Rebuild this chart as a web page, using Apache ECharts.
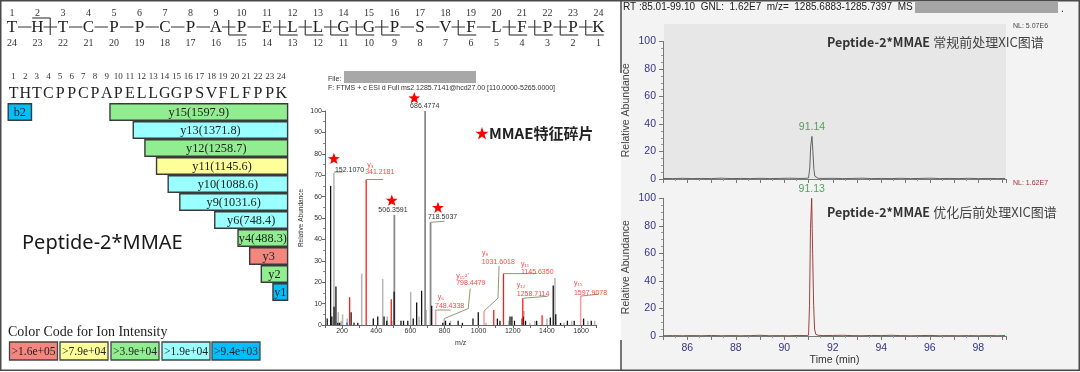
<!DOCTYPE html>
<html>
<head>
<meta charset="utf-8">
<script src="https://cdn.jsdelivr.net/npm/echarts@6/dist/echarts.min.js"></script>
<style>
html,body{margin:0;padding:0;background:#fff;overflow:hidden}
#c{width:1080px;height:372px}
</style>
</head>
<body>
<div id="c"></div>
<script>
// ================= DATA =================
const residues = ['T','H','T','C','P','P','C','P','A','P','E','L','L','G','G','P','S','V','F','L','F','P','P','K'];
const ionNames  = ['b2','y15','y13','y12','y11','y10','y9','y6','y4','y3','y2','y1'];
const ionMasses = [null,1597.9,1371.8,1258.7,1145.6,1088.6,1031.6,748.4,488.3,null,null,null];
const ionLevel  = [4,2,3,2,1,3,3,3,2,0,2,4];
const intensityLevels = ['>1.6e+05','>7.9e+04','>3.9e+04','>1.9e+04','>9.4e+03'];

// MS/MS spectrum peaks (m/z, relative abundance)
const blackMz = [113,133,140,153,164,175,186,253,270,292,383,409,446,462,490,505,545,560,585,617,637,666,725,790,806,830,880,905,967,998,1110,1125,1184,1195,1210,1255,1262,1275,1340,1420,1437,1452,1480,1520,1560,1615,1660];
const blackAb = [3,65,4,8.5,18,1,1,6,1,1,3,4,4,2,2,15.5,2,2,2,3,10.5,16,9,1,2,1,2,1,3,6,3,2,4,4,2,3,4,2,2,3.5,18.5,5,1,2,2,3,2];
const grayMz  = [506.36,686.48,690,718.5];
const grayAb  = [51.5,100,7,48];
const lightMz = [152.11,178,195,203,230,315,438,465,602,651,798.45,835,1043,1176,1265,1300,1330,1400,1447,1500,1545,1640,1680];
const lightAb = [71,6,2,5,3,24,21.5,4,15.5,4,3,2,1,2,6.5,1,2,3,22,1,2,2,2];
const redMz   = [244.2,341.22,488.3,1088.6,1145.64,1258.71,1371.8];
const redAb   = [13,68,12,7,24,12.5,4.5];
const pinkMz  = [748.43,1031.6,1597.91];
const pinkAb  = [7,6.5,13.5];
const blueMz  = [229];
const blueAb  = [1.2];

// annotated peaks
const labelMz  = [152.1070,341.2181,506.3591,686.4774,718.5037,748.4338,798.4479,1031.6018,1145.6350,1258.7114,1597.9078];
const labelAb  = [71,68,51.5,100,48,7,3,6.5,24,12.5,13.5];
const labelIon = ['','y₃','','','','y₆','y₁₅²⁺','y₉','y₁₁','y₁₂','y₁₅'];
const mmaeMark = [1,0,1,1,1,0,0,0,0,0,0];

// XIC traces
const topRT = [85.01,85.4,85.8,86.2,86.6,87,87.4,87.8,88.2,88.6,89,89.4,89.8,90.2,90.6,90.9,91.0,91.05,91.09,91.14,91.18,91.22,91.26,91.3,91.4,91.6,92,92.4,92.8,93.2,93.6,94,94.4,94.8,95.2,95.6,96,96.4,96.8,97.2,97.6,98,98.4,98.8,99.1];
const topAb = [0.4,0.3,0.5,0.3,0.4,0.3,0.6,0.3,0.4,0.3,0.5,0.3,0.4,0.6,0.4,0.5,0.8,8,24,31,20,7,2,0.8,0.5,0.4,0.5,0.3,0.4,0.6,0.3,0.4,0.3,0.5,0.3,0.4,0.6,0.3,0.4,0.3,0.5,0.3,0.4,0.3,0.4];
const botRT = [85.01,85.4,85.8,86.2,86.6,87,87.4,87.8,88.2,88.6,89,89.4,89.8,90.2,90.6,90.9,91.0,91.04,91.08,91.13,91.17,91.21,91.25,91.3,91.4,91.6,92,92.4,92.8,93.2,93.6,94,94.4,94.8,95.2,95.6,96,96.4,96.8,97.2,97.6,98,98.4,98.8,99.1];
const botAb = [0.2,0.3,0.2,0.3,0.2,0.4,0.2,0.3,0.2,0.3,0.5,0.2,0.3,0.2,0.4,0.3,0.6,22,78,100,60,22,5,1.2,0.5,0.3,0.4,0.5,0.3,0.2,0.4,0.3,0.5,0.3,0.2,0.3,0.4,0.2,0.3,0.2,0.3,0.2,0.3,0.2,0.3];

// ================= STYLE =================
const SERIF = '"Liberation Serif","Times New Roman",serif';
const SANS = '"Liberation Sans",Arial,sans-serif';
const CJK = '"Noto Sans CJK SC","Noto Sans",sans-serif';
const levelColors = ['#f4857f','#ffff99','#90ee90','#99ffff','#00bfff'];
const navy = '#34348a';

// label layout (pixel offsets from the peak top)
const labelLayout = [
  {t:[1,-3], s:[0,-14], lead:[[0,-1],[9,-1]]},
  {t:[-1,-7.5], i:[1,-14.5], lead:[[0,0],[17,0]]},
  {t:[-16,-5], s:[-2.6,-14]},
  {t:[-15,-5], s:[-10.8,-12.7]},
  {t:[-2.6,-5], s:[7.4,-14.3], lead:[[0,0],[14,-1]]},
  {t:[-0.7,-4], i:[2,-13.3], lead:[[0,0],[15,0]]},
  {t:[12,-35.3], i:[12,-42.6], lead:[[0,0],[24,-10],[26,-30]]},
  {t:[-2.3,-49.3], i:[-2,-58], lead:[[0,0],[14,-13],[15,-45]]},
  {t:[17.5,-2], i:[17.5,-9.6], lead:[[0,0],[33,0]]},
  {t:[-6,-4.3], i:[-6,-13.3], lead:[[0,0],[25,-2]]},
  {t:[-6.7,-3.3], i:[-6.7,-13], lead:[[0,0],[18,-2]]}
];

function starPts(cx, cy, R, r) {
  const pts = [];
  for (let k = 0; k < 10; k++) {
    const ang = -Math.PI / 2 + k * Math.PI / 5;
    const rr = k % 2 === 0 ? R : r;
    pts.push([cx + rr * Math.cos(ang), cy + rr * Math.sin(ang)]);
  }
  return pts;
}

// derived ion data
const yIonOrder = ionNames.filter(n => n[0] === 'y');
const ionData = ionNames.map((n, k) => {
  const N = parseInt(n.slice(1), 10);
  const isB = n[0] === 'b';
  const start = isB ? 0 : 24 - N;
  const end = isB ? N : 24;
  const row = isB ? 0 : yIonOrder.indexOf(n);
  return [start, end, row, ionLevel[k]];
});
const bSites = ionNames.filter(n => n[0] === 'b').map(n => parseInt(n.slice(1), 10));
const yStartResidues = yIonOrder.map(n => 25 - parseInt(n.slice(1), 10));

const chart = echarts.init(document.getElementById('c'), null, {width:1080, height:372});

function line(x1,y1,x2,y2,color,w){
  return {type:'line', shape:{x1,y1,x2,y2}, style:{stroke:color||'#333', lineWidth:w||1}};
}
function txt(x,y,text,font,fill,align,valign){
  return {type:'text', x, y, style:{text, font, fill, align:align||'center', verticalAlign:valign||'middle', textAlign:align||'center', textVerticalAlign:valign||'middle'}};
}

function peakSeries(mz, ab, color, w) {
  return {
    type:'custom', xAxisIndex:2, yAxisIndex:2, silent:true, clip:false,
    data: mz.map((m,i)=>[m, ab[i]]),
    renderItem(params, api){
      const p0 = api.coord([api.value(0), 0]);
      const p1 = api.coord([api.value(0), api.value(1)]);
      return {type:'line', shape:{x1:p0[0], y1:p0[1], x2:p1[0], y2:p1[1]}, style:{stroke:color, lineWidth:w}};
    }
  };
}

function apexPoint(rt, ab) {
  let k = 0; ab.forEach((v,i)=>{ if (v > ab[k]) k = i; });
  return [[rt[k], ab[k]]];
}

const grids = [
  {left:0, top:0, width:612, height:50},
  {left:5.2, top:103, width:279.4, height:198},
  {left:325, top:111, width:271.4, height:214},
  {left:663, top:41.5, width:343, height:137.5},
  {left:663, top:198.3, width:343, height:137.7}
].map(g => Object.assign({outerBoundsMode:'none', containLabel:false}, g));

const specAxisCommon = {
  axisLine:{lineStyle:{color:'#666', width:1}},
  axisTick:{length:3, lineStyle:{color:'#666'}},
  minorTick:{show:true, splitNumber:2, length:2, lineStyle:{color:'#888'}},
  splitLine:{show:false},
  axisLabel:{fontSize:7, fontFamily:SANS, color:'#333', margin:3}
};
const xicY = {
  type:'value', min:0, max:100, interval:20,
  axisLine:{show:true, lineStyle:{color:'#777'}},
  axisTick:{show:true, length:4, lineStyle:{color:'#777'}},
  minorTick:{show:true, splitNumber:4, length:2, lineStyle:{color:'#999'}},
  splitLine:{show:false},
  axisLabel:{fontSize:10.5, fontFamily:SANS, color:navy, margin:7},
  name:'Relative Abundance', nameLocation:'middle', nameGap:31, nameRotate:90,
  nameTextStyle:{fontSize:10.5, fontFamily:SANS, color:'#444'}
};
const xicX = {
  type:'value', min:85, max:99.14, interval:1,
  axisLine:{show:true, lineStyle:{color:'#777'}},
  axisTick:{show:true, length:4, lineStyle:{color:'#777'}},
  minorTick:{show:true, splitNumber:2, length:2, lineStyle:{color:'#999'}},
  splitLine:{show:false},
  axisLabel:{fontSize:10.5, fontFamily:SANS, color:navy, margin:7,
    formatter: v => (Math.abs(v - Math.round(v)) < 1e-6 && Math.round(v) % 2 === 0) ? String(Math.round(v)) : ''}
};

// ------- graphics (panels, titles, legend) -------
const g = [];
g.push({type:'rect', z:-10, shape:{x:621, y:0, width:459, height:372}, style:{fill:'#f3f3f3'}});
g.push({type:'rect', z:-9, shape:{x:664, y:24, width:342, height:155}, style:{fill:'#e7e7e7'}});
g.push({type:'rect', z:-8, shape:{x:0.75, y:0.75, width:1078.5, height:369.5}, style:{fill:'none', stroke:'#4a4a4a', lineWidth:1.5}});
g.push(Object.assign(line(621,0,621,73,'#4a4a4a',1.5), {z:-8}));
g.push(Object.assign(line(621,340,621,371,'#4a4a4a',1.5), {z:-8}));
// right header
g.push(txt(623,7,'RT :85.01-99.10  GNL:  1.62E7  m/z=  1285.6883-1285.7397  MS   F:  MS','10px '+SANS,'#222','left'));
g.push({type:'rect', shape:{x:915, y:1, width:143, height:12}, style:{fill:'#a5a5a5'}});
g.push(txt(1061,9,'.','10px '+SANS,'#222','left'));
g.push(txt(1013,26,'NL: 5.07E6','7px '+SANS,'#444','left'));
g.push(txt(1013,183,'NL: 1.62E7','7px '+SANS,'#a03030','left'));
// XIC titles
g.push({type:'text', x:827, y:42, style:{text:'{a|Peptide-2*MMAE} {b|常规前处理XIC图谱}', verticalAlign:'middle', textVerticalAlign:'middle',
  rich:{a:{font:'bold 12.5px '+CJK, fill:'#333', color:'#333'}, b:{font:'13px '+CJK, fill:'#444', color:'#444'}}}});
g.push({type:'text', x:827, y:212, style:{text:'{a|Peptide-2*MMAE} {b|优化后前处理XIC图谱}', verticalAlign:'middle', textVerticalAlign:'middle',
  rich:{a:{font:'bold 12.5px '+CJK, fill:'#333', color:'#333'}, b:{font:'13px '+CJK, fill:'#444', color:'#444'}}}});
// spectrum header
g.push(txt(328,79,'File:','7px '+SANS,'#333','left'));
g.push({type:'rect', shape:{x:344, y:71, width:132, height:12}, style:{fill:'#a8a8a8'}});
g.push(txt(328,88,'F: FTMS + c ESI d Full ms2 1285.7141@hcd27.00 [110.0000-5265.0000]','7px '+SANS,'#333','left'));
g.push({type:'text', x:475, y:133, style:{text:'{s|★}{t|MMAE特征碎片}', verticalAlign:'middle', textVerticalAlign:'middle',
  rich:{s:{font:'14px '+CJK, fill:'#ff0000', color:'#ff0000'}, t:{font:'bold 15px '+CJK, fill:'#222', color:'#222'}}}});
// left panel labels
g.push(txt(22,243,'Peptide-2*MMAE','20px "Noto Sans",sans-serif','#1a1a1a','left'));
g.push(txt(8,332,'Color Code for Ion Intensity','14px '+SERIF,'#222','left'));
const legendX = [9.5,60,111,162,212];
intensityLevels.forEach((lv, k) => {
  g.push({type:'rect', shape:{x:legendX[k], y:342, width:48, height:18}, style:{fill:levelColors[k], stroke:'#444', lineWidth:1.3}});
  g.push(txt(legendX[k]+24, 351.5, lv, '11.5px '+SERIF, '#222'));
});

const option = {
  animation:false,
  backgroundColor:'#ffffff',
  grid: grids,
  xAxis: [
    {type:'value', gridIndex:0, min:0.53, max:24.53, show:false},
    {type:'value', gridIndex:1, min:0, max:24, show:false},
    Object.assign({type:'value', gridIndex:2, min:100, max:1690, interval:100,
      name:'m/z', nameLocation:'middle', nameGap:12, nameTextStyle:{fontSize:7, fontFamily:SANS, color:'#333'}}, specAxisCommon,
      {axisLabel:Object.assign({}, specAxisCommon.axisLabel, {formatter: v => (v % 200 === 0 && v >= 200 && v <= 1600) ? String(v) : ''})},
      {minorTick:{show:false}}),
    Object.assign({gridIndex:3}, xicX, {axisLabel:{show:false}}),
    Object.assign({gridIndex:4}, xicX, {name:'Time (min)', nameLocation:'middle', nameGap:18, nameTextStyle:{fontSize:10.5, fontFamily:SANS, color:'#333'}})
  ],
  yAxis: [
    {type:'value', gridIndex:0, min:0, max:1, show:false},
    {type:'value', gridIndex:1, min:0, max:11, inverse:true, show:false},
    Object.assign({type:'value', gridIndex:2, min:0, max:100, interval:10,
      name:'Relative Abundance', nameLocation:'middle', nameGap:20, nameRotate:90,
      nameTextStyle:{fontSize:6.5, fontFamily:SANS, color:'#333'}}, specAxisCommon),
    Object.assign({gridIndex:3}, xicY),
    Object.assign({gridIndex:4}, xicY)
  ],
  graphic: {elements: g},
  series: [
    // top sequence with fragmentation markers
    {
      type:'custom', xAxisIndex:0, yAxisIndex:0, silent:true, clip:false,
      data: residues.map((r,i)=>[i+1, 0]),
      renderItem(params, api){
        const n = params.dataIndex + 1;
        const p = api.coord([n, 0]);
        const cx = p[0], base = p[1];
        const step = api.size([1,0])[0];
        const ch = [];
        ch.push(txt(cx, base-37, String(n), '10px '+SERIF, '#333'));
        ch.push(txt(cx, base-22.5, residues[n-1], '17px '+SERIF, '#222'));
        ch.push(txt(cx, base-7, String(25-n), '10px '+SERIF, '#333'));
        if (n < 24) ch.push(line(cx+6, base-23, cx+step-6, base-23, '#333', 1));
        if (bSites.indexOf(n) >= 0) {
          const bx = cx + step/2;
          ch.push(line(bx, base-32, bx, base-15, '#333', 1.1));
          ch.push(line(bx-18, base-32, bx, base-32, '#333', 1.1));
        }
        if (yStartResidues.indexOf(n) >= 0) {
          const bx = cx - step/2;
          ch.push(line(bx, base-30, bx, base-15, '#333', 1.1));
          ch.push(line(bx, base-15, bx+18, base-15, '#333', 1.1));
        }
        return {type:'group', children:ch};
      }
    },
    // second sequence row
    {
      type:'custom', xAxisIndex:1, yAxisIndex:1, silent:true, clip:false,
      data: residues.map((r,i)=>[i+0.5, 0]),
      renderItem(params, api){
        const i = params.dataIndex;
        const p = api.coord([i+0.5, 0]);
        return {type:'group', children:[
          txt(p[0]+2.5, p[1]-26, String(i+1), '9px '+SERIF, '#333'),
          txt(p[0]+2.5, p[1]-9.5, residues[i], '16px '+SERIF, '#222')
        ]};
      }
    },
    // fragment ion bars
    {
      type:'custom', xAxisIndex:1, yAxisIndex:1, silent:true, clip:false,
      data: ionData,
      renderItem(params, api){
        const k = params.dataIndex;
        const s = api.value(0), e = api.value(1), r = api.value(2), lv = api.value(3);
        const a = api.coord([s, r]), b = api.coord([e, r+1]);
        const x0 = a[0] + (s === 0 ? 3 : 0), x1 = b[0] + 3;
        const y0 = a[1] + 0.8, y1 = b[1] - 0.8;
        const label = ionMasses[k] ? ionNames[k] + '(' + ionMasses[k].toFixed(1) + ')' : ionNames[k];
        return {type:'group', children:[
          {type:'rect', shape:{x:x0, y:y0, width:x1-x0, height:y1-y0}, style:{fill:levelColors[lv], stroke:'#3a3a3a', lineWidth:1.4}},
          txt((x0+x1)/2, (y0+y1)/2+0.5, label, '12.3px '+SERIF, '#222')
        ]};
      }
    },
    // spectrum peaks
    peakSeries(lightMz, lightAb, '#b5b5b5', 1.5),
    peakSeries(grayMz, grayAb, '#8a8a8a', 1.8),
    peakSeries(blackMz, blackAb, '#111111', 1.3),
    peakSeries(pinkMz, pinkAb, '#ff9a9a', 1.5),
    peakSeries(redMz, redAb, '#ff1a1a', 1.3),
    peakSeries(blueMz, blueAb, '#3050ff', 1.3),
    // peak annotations
    {
      type:'custom', xAxisIndex:2, yAxisIndex:2, silent:true, clip:false, z:5,
      data: labelMz.map((m,i)=>[m, labelAb[i]]),
      renderItem(params, api){
        const i = params.dataIndex;
        const p = api.coord([labelMz[i], labelAb[i]]);
        const L = labelLayout[i];
        const ch = [];
        if (L.lead) ch.push({type:'polyline', shape:{points:L.lead.map(q=>[p[0]+q[0], p[1]+q[1]])}, style:{stroke:'#8d9b72', lineWidth:1, fill:'none'}});
        const isIon = labelIon[i] !== '';
        ch.push(txt(p[0]+L.t[0], p[1]+L.t[1], labelMz[i].toFixed(4), '7px '+SANS, isIon ? '#ff4646' : '#333', 'left'));
        if (isIon) ch.push(txt(p[0]+L.i[0], p[1]+L.i[1], labelIon[i], '7px '+SANS, '#ff4646', 'left'));
        if (mmaeMark[i]) ch.push({type:'polygon', shape:{points:starPts(p[0]+L.s[0], p[1]+L.s[1], 6.2, 2.6)}, style:{fill:'#ff0000'}});
        return {type:'group', children:ch};
      }
    },
    // XIC traces
    {type:'line', xAxisIndex:3, yAxisIndex:3, data:topRT.map((t,i)=>[t, topAb[i]]), showSymbol:false, symbol:'none',
      lineStyle:{color:'#555', width:0.9}, silent:true},
    {type:'scatter', xAxisIndex:3, yAxisIndex:3, data:apexPoint(topRT, topAb), symbolSize:1, itemStyle:{color:'rgba(0,0,0,0)'},
      label:{show:true, position:'top', distance:3, formatter: p => p.value[0].toFixed(2), fontSize:10.5, fontFamily:SANS, color:'#2f8a3a'}, silent:true},
    {type:'line', xAxisIndex:4, yAxisIndex:4, data:botRT.map((t,i)=>[t, botAb[i]]), showSymbol:false, symbol:'none',
      lineStyle:{color:'#9b2a2a', width:0.9}, silent:true},
    {type:'scatter', xAxisIndex:4, yAxisIndex:4, data:apexPoint(botRT, botAb), symbolSize:1, itemStyle:{color:'rgba(0,0,0,0)'},
      label:{show:true, position:'top', distance:3, formatter: p => p.value[0].toFixed(2), fontSize:10.5, fontFamily:SANS, color:'#2f8a3a'}, silent:true}
  ]
};
chart.setOption(option);
</script>
</body>
</html>
